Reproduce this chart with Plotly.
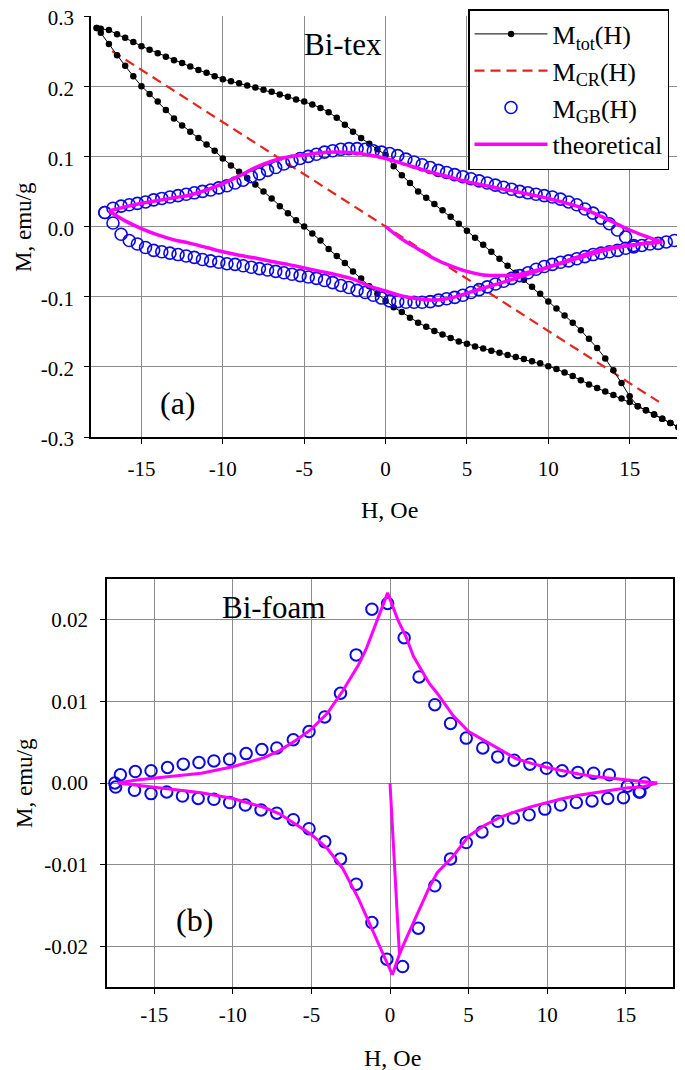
import plotly.graph_objects as go

W, H_FIG = 685, 1070
FONT = "Liberation Serif, Times New Roman, serif"
PAGE_OFFSET = 8  # the page body margin shifts the figure by this many pixels

# ---------- (a) Bi-tex ----------
h_tot = [-17.75, -17.5, -17.0, -16.5, -16.0, -15.5, -15.0, -14.5, -14.0, -13.5, -13.0, -12.5,
         -12.0, -11.5, -11.0, -10.5, -10.0, -9.5, -9.0, -8.5, -8.0, -7.5, -7.0, -6.5,
         -6.0, -5.5, -5.0, -4.5, -4.0, -3.5, -3.0, -2.5, -2.0, -1.5, -1.0, -0.5,
         0.0, 0.5, 1.0, 1.5, 2.0, 2.5, 3.0, 3.5, 4.0, 4.5, 5.0, 5.5,
         6.0, 6.5, 7.0, 7.5, 8.0, 8.5, 9.0, 9.5, 10.0, 10.5, 11.0, 11.5,
         12.0, 12.5, 13.0, 13.5, 14.0, 14.5, 15.0, 15.5, 16.0, 16.5, 17.0, 17.5, 18.0]
m_tot_up = [0.283, 0.282, 0.280, 0.274, 0.269, 0.263, 0.257, 0.252, 0.247, 0.242, 0.237, 0.233,
            0.228, 0.223, 0.219, 0.214, 0.210, 0.207, 0.204, 0.201, 0.198, 0.195, 0.192, 0.188,
            0.185, 0.181, 0.178, 0.174, 0.169, 0.163, 0.155, 0.145, 0.135, 0.126, 0.118, 0.110,
            0.102, 0.086, 0.073, 0.062, 0.050, 0.041, 0.032, 0.023, 0.014, 0.004, -0.006, -0.016,
            -0.026, -0.036, -0.046, -0.056, -0.066, -0.076, -0.086, -0.096, -0.107, -0.117, -0.127, -0.137,
            -0.148, -0.160, -0.173, -0.188, -0.205, -0.223, -0.242, -0.256, -0.262, -0.268, -0.274, -0.280, -0.286]
m_tot_dn = [0.283, 0.276, 0.260, 0.244, 0.229, 0.214, 0.200, 0.189, 0.178, 0.166, 0.154, 0.144,
            0.135, 0.126, 0.117, 0.108, 0.097, 0.087, 0.078, 0.069, 0.060, 0.050, 0.040, 0.029,
            0.019, 0.009, 0.000, -0.010, -0.020, -0.032, -0.042, -0.052, -0.064, -0.074, -0.085, -0.096,
            -0.106, -0.115, -0.122, -0.130, -0.137, -0.143, -0.149, -0.154, -0.159, -0.164, -0.167, -0.171,
            -0.174, -0.177, -0.180, -0.183, -0.186, -0.189, -0.192, -0.195, -0.199, -0.203, -0.208, -0.213,
            -0.219, -0.225, -0.230, -0.235, -0.240, -0.245, -0.250, -0.256, -0.262, -0.268, -0.274, -0.280, -0.286]

h_cr = [-16.8, 16.8]
m_cr = [0.250, -0.250]

h_gb = [-17.25, -16.75, -16.25, -15.75, -15.25, -14.75, -14.25, -13.75, -13.25, -12.75, -12.25, -11.75,
        -11.25, -10.75, -10.25, -9.75, -9.25, -8.75, -8.25, -7.75, -7.25, -6.75, -6.25, -5.75,
        -5.25, -4.75, -4.25, -3.75, -3.25, -2.75, -2.25, -1.75, -1.25, -0.75, -0.25, 0.25,
        0.75, 1.25, 1.75, 2.25, 2.75, 3.25, 3.75, 4.25, 4.75, 5.25, 5.75, 6.25,
        6.75, 7.25, 7.75, 8.25, 8.75, 9.25, 9.75, 10.25, 10.75, 11.25, 11.75, 12.25,
        12.75, 13.25, 13.75, 14.25, 14.75, 15.25, 15.75, 16.25, 16.75, 17.25, 17.75]
m_gb_up = [0.020, 0.026, 0.029, 0.031, 0.033, 0.035, 0.038, 0.040, 0.042, 0.044, 0.046, 0.048,
           0.050, 0.052, 0.055, 0.058, 0.062, 0.066, 0.071, 0.075, 0.080, 0.084, 0.089, 0.093,
           0.097, 0.100, 0.103, 0.106, 0.108, 0.110, 0.111, 0.111, 0.110, 0.108, 0.106, 0.104,
           0.101, 0.096, 0.092, 0.088, 0.084, 0.080, 0.077, 0.074, 0.071, 0.068, 0.065, 0.062,
           0.059, 0.056, 0.053, 0.050, 0.048, 0.046, 0.044, 0.042, 0.039, 0.035, 0.031, 0.025,
           0.019, 0.012, 0.004, -0.005, -0.015, -0.027, None, None, None, None, None]
m_gb_dn = [0.020, 0.005, -0.011, -0.020, -0.025, -0.030, -0.034, -0.036, -0.038, -0.040, -0.042, -0.044,
           -0.047, -0.049, -0.051, -0.053, -0.054, -0.056, -0.058, -0.060, -0.062, -0.064, -0.066, -0.068,
           -0.070, -0.072, -0.074, -0.077, -0.080, -0.084, -0.087, -0.091, -0.094, -0.098, -0.102, -0.106,
           -0.107, -0.108, -0.108, -0.108, -0.107, -0.105, -0.103, -0.101, -0.098, -0.094, -0.090, -0.086,
           -0.082, -0.078, -0.074, -0.070, -0.066, -0.061, -0.057, -0.054, -0.051, -0.049, -0.046, -0.043,
           -0.040, -0.038, -0.036, -0.034, -0.031, -0.029, -0.027, -0.025, -0.024, -0.022, -0.020]

h_th = [-17.0, -16.0, -15.0, -14.0, -13.0, -12.0, -11.0, -10.0, -9.0, -8.0, -7.0, -6.0,
        -5.0, -4.0, -3.0, -2.0, -1.0, 0.0, 1.0, 2.0, 3.0, 4.0, 5.0, 6.0,
        7.0, 8.0, 9.0, 10.0, 11.0, 12.0, 13.0, 14.0, 15.0, 16.0, 17.0]
m_th_up = [0.022, 0.028, 0.033, 0.037, 0.041, 0.045, 0.052, 0.061, 0.072, 0.084, 0.093, 0.099,
           0.102, 0.105, 0.106, 0.105, 0.102, 0.097, 0.090, 0.083, 0.076, 0.070, 0.064, 0.059,
           0.054, 0.050, 0.045, 0.040, 0.034, 0.027, 0.017, 0.006, -0.005, -0.014, -0.022]
m_th_dn = [0.022, 0.008, -0.003, -0.012, -0.019, -0.024, -0.030, -0.036, -0.041, -0.045, -0.050, -0.054,
           -0.059, -0.064, -0.069, -0.075, -0.085, -0.092, -0.099, -0.103, -0.105, -0.102, -0.095, -0.088,
           -0.081, -0.074, -0.066, -0.058, -0.050, -0.042, -0.035, -0.030, -0.027, -0.024, -0.022]
h_th_virgin = [0.0, 1.0, 2.0, 3.0, 4.0, 5.0, 6.0, 7.0, 8.0, 9.0, 10.0, 11.0, 12.0, 13.0, 14.0, 15.0, 16.0, 17.0]
m_th_virgin = [0.0, -0.018, -0.032, -0.046, -0.056, -0.064, -0.069, -0.070, -0.069, -0.064, -0.058, -0.051,
               -0.044, -0.037, -0.031, -0.027, -0.024, -0.022]

# ---------- (b) Bi-foam ----------
h_foam_up = [-17.5, -17.15, -16.2, -15.2, -14.15, -13.15, -12.15, -11.2, -10.2, -9.15, -8.15, -7.2,
             -6.15, -5.15, -4.15, -3.15, -2.15, -1.15, -0.15, 0.9, 1.85, 2.85, 3.85, 4.85,
             5.9, 6.85, 7.9, 8.9, 9.95, 10.95, 11.95, 12.95, 13.95, 15.1, 15.9, 16.2]
m_foam_up = [0.0000, 0.0010, 0.0014, 0.0015, 0.0019, 0.0023, 0.0025, 0.0027, 0.0029, 0.0036, 0.0041, 0.0043,
             0.0053, 0.0063, 0.0081, 0.0110, 0.0157, 0.0213, 0.0220, 0.0178, 0.0130, 0.0096, 0.0073, 0.0055,
             0.0043, 0.0032, 0.0028, 0.0023, 0.0018, 0.0015, 0.0013, 0.0012, 0.0010, -0.0004, -0.0011, 0.0000]
h_foam_dn = [-17.45, -16.25, -15.2, -14.2, -13.2, -12.2, -11.2, -10.2, -9.2, -8.2, -7.2, -6.15,
             -5.15, -4.15, -3.15, -2.15, -1.15, -0.2, 0.8, 1.8, 2.85, 3.85, 4.85, 5.85,
             6.85, 7.85, 8.85, 9.85, 10.85, 11.85, 12.85, 13.85, 14.85, 15.85]
m_foam_dn = [-0.0005, -0.0009, -0.0013, -0.0011, -0.0016, -0.0019, -0.0020, -0.0024, -0.0027, -0.0033, -0.0037, -0.0045,
             -0.0056, -0.0072, -0.0093, -0.0124, -0.0171, -0.0216, -0.0225, -0.0178, -0.0126, -0.0093, -0.0073, -0.0060,
             -0.0047, -0.0043, -0.0039, -0.0032, -0.0027, -0.0024, -0.0022, -0.0019, -0.0018, -0.0011]

h_foam_th_up = [-17.3, -16.0, -14.0, -12.0, -10.0, -8.0, -7.0, -6.0, -5.0, -4.0, -3.0, -2.0, -1.5, -1.0, -0.5, -0.15,
                0.5, 1.0, 1.5, 2.0, 2.5, 3.0, 4.0, 5.0, 6.0, 7.0, 8.0, 9.0, 10.0, 11.0, 12.0, 13.0, 14.0, 15.0, 16.0, 17.0]
m_foam_th_up = [0.0, 0.0004, 0.0008, 0.0012, 0.0020, 0.0031, 0.0040, 0.0052, 0.0066, 0.0085, 0.0113, 0.0145, 0.0165, 0.0190, 0.0213, 0.0233,
                0.0200, 0.0180, 0.0155, 0.0138, 0.0122, 0.0110, 0.0083, 0.0063, 0.0052, 0.0040, 0.0030, 0.0024, 0.0019, 0.0015, 0.0011, 0.0008, 0.0006, 0.0004, 0.0002, 0.0]
h_foam_th_dn = [-17.3, -16.0, -14.0, -12.0, -10.0, -8.0, -7.0, -6.0, -5.0, -4.0, -3.0, -2.0, -1.5, -1.0, -0.5, 0.15,
                0.6, 1.0, 1.5, 2.0, 2.5, 3.0, 4.0, 5.0, 6.0, 7.0, 8.0, 9.0, 10.0, 11.0, 12.0, 13.0, 14.0, 15.0, 16.0, 17.0]
m_foam_th_dn = [0.0, -0.0003, -0.0007, -0.0012, -0.0019, -0.0030, -0.0038, -0.0050, -0.0063, -0.0080, -0.0105, -0.0142, -0.0163, -0.0185, -0.0207, -0.0235,
                -0.0210, -0.0192, -0.0170, -0.0150, -0.0128, -0.0110, -0.0090, -0.0065, -0.0052, -0.0042, -0.0035, -0.0029, -0.0024, -0.0019, -0.0015, -0.0012, -0.0009, -0.0006, -0.0005, 0.0]
h_foam_th_virgin = [0.0, 0.6]
m_foam_th_virgin = [0.0, -0.0210]

# ticks
x_ticks = [-15, -10, -5, 0, 5, 10, 15]
x_ticktext = ["-15", "-10", "-5", "0", "5", "10", "15"]
ya_ticks = [-0.3, -0.2, -0.1, 0.0, 0.1, 0.2, 0.3]
ya_ticktext = ["-0.3", "-0.2", "-0.1", "0.0", "0.1", "0.2", "0.3"]
yb_ticks = [-0.02, -0.01, 0.0, 0.01, 0.02]
yb_ticktext = ["-0.02", "-0.01", "0.00", "0.01", "0.02"]

BLACK = "#000000"
RED = "#e8231c"
BLUE = "#0a0ae0"
MAGENTA = "#ff00ff"
GRID = "#8c8c8c"

fig = go.Figure()

# (a) traces
fig.add_trace(go.Scatter(x=h_cr, y=m_cr, mode="lines", name="M<sub>CR</sub>(H)", legendrank=2,
                         legendgroup="cr", line=dict(color=RED, width=2.2, dash="10px,6px"),
                         xaxis="x", yaxis="y"))
fig.add_trace(go.Scatter(x=h_tot, y=m_tot_up, mode="lines+markers", name="M<sub>tot</sub>(H)", legendrank=1,
                         legendgroup="tot", line=dict(color=BLACK, width=1),
                         marker=dict(color=BLACK, size=6.5), xaxis="x", yaxis="y"))
fig.add_trace(go.Scatter(x=h_tot, y=m_tot_dn, mode="lines+markers", showlegend=False,
                         legendgroup="tot", line=dict(color=BLACK, width=1),
                         marker=dict(color=BLACK, size=6.5), xaxis="x", yaxis="y"))
for i, m in enumerate([m_gb_up, m_gb_dn]):
    fig.add_trace(go.Scatter(x=h_gb, y=m, mode="markers", name="M<sub>GB</sub>(H)", legendrank=3,
                             legendgroup="gb", showlegend=(i == 0),
                             marker=dict(symbol="circle-open", color=BLUE, size=12, line=dict(width=1.6)),
                             xaxis="x", yaxis="y"))
for i, (hx, m) in enumerate([(h_th, m_th_up), (h_th, m_th_dn), (h_th_virgin, m_th_virgin)]):
    fig.add_trace(go.Scatter(x=hx, y=m, mode="lines", name="theoretical", legendrank=4,
                             legendgroup="th", showlegend=(i == 0),
                             line=dict(color=MAGENTA, width=3.5, shape="spline"),
                             xaxis="x", yaxis="y"))

# (b) traces
for hx, m in [(h_foam_up, m_foam_up), (h_foam_dn, m_foam_dn)]:
    fig.add_trace(go.Scatter(x=hx, y=m, mode="markers", showlegend=False,
                             marker=dict(symbol="circle-open", color=BLUE, size=11.5, line=dict(width=2)),
                             xaxis="x2", yaxis="y2"))
for hx, m in [(h_foam_th_up, m_foam_th_up), (h_foam_th_dn, m_foam_th_dn),
              (h_foam_th_virgin, m_foam_th_virgin)]:
    fig.add_trace(go.Scatter(x=hx, y=m, mode="lines", showlegend=False,
                             line=dict(color=MAGENTA, width=3), xaxis="x2", yaxis="y2"))


def px_x(p):
    return (p - PAGE_OFFSET) / W


def px_y(p):
    return 1 - (p - PAGE_OFFSET) / H_FIG


axis_common = dict(showgrid=True, gridcolor=GRID, gridwidth=1.3, zeroline=False,
                   showline=True, linecolor=BLACK, linewidth=1.6, automargin=False,
                   ticks="outside", ticklen=5, tickcolor=BLACK, tickwidth=1.3,
                   ticklabeloverflow="allow",
                   tickfont=dict(family=FONT, size=21, color=BLACK))

fig.update_layout(
    width=W, height=H_FIG, autosize=False,
    margin=dict(l=0, r=0, t=0, b=0, autoexpand=False),
    paper_bgcolor="white", plot_bgcolor="white",
    font=dict(family=FONT, color=BLACK),
    xaxis=dict(axis_common, domain=[px_x(91), px_x(685)], range=[-18.1, 18.4], anchor="y",
               tickvals=x_ticks, ticktext=x_ticktext, ticklabelstandoff=7),
    yaxis=dict(axis_common, domain=[px_y(437), px_y(16)], range=[-0.3, 0.3], anchor="x",
               tickvals=ya_ticks, ticktext=ya_ticktext, ticklabelstandoff=6, ticklabelshift=2),
    xaxis2=dict(axis_common, domain=[px_x(107), px_x(673)], range=[-18.0, 18.0], anchor="y2",
                tickvals=x_ticks, ticktext=x_ticktext, ticklabelstandoff=3, mirror=True),
    yaxis2=dict(axis_common, domain=[px_y(987), px_y(579)], range=[-0.025, 0.025], anchor="x2",
                tickvals=yb_ticks, ticktext=yb_ticktext, ticklabelstandoff=8, mirror=True),
    legend=dict(x=px_x(468), y=px_y(9), xanchor="left", yanchor="top",
                bgcolor="white", bordercolor=BLACK, borderwidth=1.5,
                font=dict(family=FONT, size=26, color=BLACK),
                itemwidth=73, tracegroupgap=0),
    showlegend=True,
)

labels = [
    ("Bi-tex", 343, 45, 31, 0),
    ("(a)", 178, 403, 32, 0),
    ("H, Oe", 389, 510, 24, 0),
    ("M, emu/g", 23, 227, 23, -90),
    ("Bi-foam", 273, 607, 31, 0),
    ("(b)", 194, 920, 32, 0),
    ("H, Oe", 392, 1058, 24, 0),
    ("M, emu/g", 24, 783, 23, -90),
]
for text, x, y, size, angle in labels:
    fig.add_annotation(text=text, x=px_x(x), y=px_y(y), xref="paper", yref="paper",
                       showarrow=False, textangle=angle, xanchor="center", yanchor="middle",
                       font=dict(family=FONT, size=size, color=BLACK))

fig.write_html("out.html")
